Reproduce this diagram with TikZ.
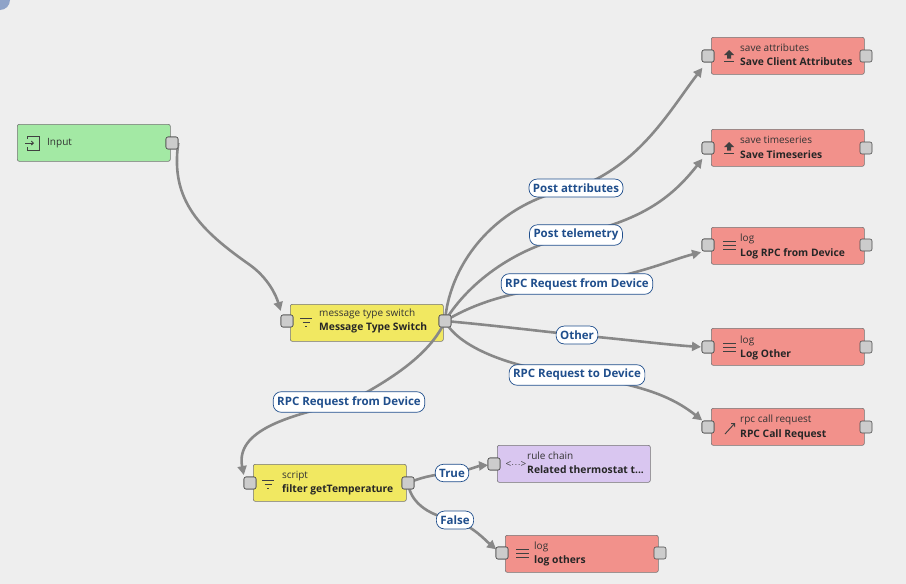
\documentclass[tikz,border=0pt]{standalone}
\usepackage{fontspec}
\setmainfont{Open Sans}
\usetikzlibrary{arrows.meta}
\definecolor{bg}{HTML}{EEEEEE}
\definecolor{grn}{HTML}{A3E9A4}
\definecolor{yel}{HTML}{F1E861}
\definecolor{red}{HTML}{F2918B}
\definecolor{pur}{HTML}{D9C6F0}
\definecolor{lblue}{HTML}{1F4E8C}
\definecolor{edge}{HTML}{888888}
\definecolor{dot}{HTML}{8FA3C8}
\tikzset{
 box/.style={draw=black!55,rounded corners=2pt,minimum width=153pt,minimum height=37pt,inner sep=0pt,line width=0.6pt},
 port/.style={draw=black!70,fill=black!20,rounded corners=2pt,minimum size=12pt,inner sep=0pt,line width=0.6pt},
 captxt/.style={anchor=west,font=\fontsize{10}{11}\selectfont,text=black!80,inner sep=0pt},
 nmtxt/.style={anchor=west,font=\fontsize{10.3}{11}\selectfont\bfseries,text=black!85,inner sep=0pt},
 lab/.style={draw=lblue,fill=white,rounded corners=8pt,text=lblue,font=\fontsize{11.5}{12}\selectfont\bfseries,inner xsep=4pt,inner ysep=4.5pt,line width=0.7pt},
 ed/.style={draw=edge,line width=2.6pt,-{Triangle[length=9pt,width=9pt]},shorten >=1pt},
 ln/.style={draw=edge,line width=2.6pt},
 ic/.style={draw=black!75,line width=0.9pt}
}
\begin{document}
\begin{tikzpicture}[x=1pt,y=-1pt]
\fill[bg] (0,0) rectangle (906,584);
\useasboundingbox (0,0) rectangle (906,584);
\fill[dot] (0,0) circle (10);
% boxes
\node[box,fill=grn,anchor=north west] (in) at (17,124) {};
\node[box,fill=yel,anchor=north west] (sw) at (290,304) {};
\node[box,fill=red,anchor=north west] (sa) at (711,37) {};
\node[box,fill=red,anchor=north west] (st) at (711,129) {};
\node[box,fill=red,anchor=north west] (lr) at (711,227) {};
\node[box,fill=red,anchor=north west] (lo) at (711,328) {};
\node[box,fill=red,anchor=north west] (rc) at (711,408) {};
\node[box,fill=yel,anchor=north west] (sc) at (253,464) {};
\node[box,fill=pur,anchor=north west] (ch) at (497,445) {};
\node[box,fill=red,anchor=north west] (lx) at (505,535) {};
% texts
\node[captxt] (tin) at (47,143) {Input};
\node[captxt] (c1) at (319,314) {message type switch};\node[nmtxt] (n1) at (319,328) {Message Type Switch};
\node[captxt] (c2) at (740,48) {save attributes};\node[nmtxt] (n2) at (740,62) {Save Client Attributes};
\node[captxt] (c3) at (740,140) {save timeseries};\node[nmtxt] (n3) at (740,155) {Save Timeseries};
\node[captxt] (c4) at (740,239) {log};\node[nmtxt] (n4) at (740,254) {Log RPC from Device};
\node[captxt] (c5) at (740,341) {log};\node[nmtxt] (n5) at (740,355) {Log Other};
\node[captxt] (c6) at (740,420) {rpc call request};\node[nmtxt] (n6) at (740,435) {RPC Call Request};
\node[captxt] (c7) at (282,476) {script};\node[nmtxt] (n7) at (282,490) {filter getTemperature};
\node[captxt] (c8) at (527,456) {rule chain};\node[nmtxt] (n8) at (527,470) {Related thermostat t...};
\node[captxt] (c9) at (534,547) {log};\node[nmtxt] (n9) at (534,561) {log others};
% icons
\draw[ic] (27,139)--(27,136)--(39,136)--(39,150)--(27,150)--(27,147);
\draw[ic,-{Straight Barb[length=2pt]}] (25,143)--(34,143);
\foreach \x/\y in {300/322,262/484}{
 \draw[ic] (\x,\y-4)--(\x+12,\y-4); \draw[ic] (\x+2.5,\y)--(\x+9.5,\y); \draw[ic] (\x+5,\y+4)--(\x+7,\y+4);}
\foreach \y in {56,148}{
 \draw[ic] (724,\y+5)--(734,\y+5); \fill[black!75] (729,\y-6)--(734,\y-1)--(731,\y-1)--(731,\y+2.5)--(727,\y+2.5)--(727,\y-1)--(724,\y-1)--cycle;}
\foreach \x/\y in {723/245,723/347,516/553}{
 \draw[ic] (\x,\y-4)--(\x+13,\y-4); \draw[ic] (\x,\y)--(\x+13,\y); \draw[ic] (\x,\y+4)--(\x+13,\y+4);}
\draw[ic,-{Straight Barb[length=2.5pt]}] (725,434)--(735,423);
\node[font=\fontsize{10}{10}\selectfont,text=black!75,inner sep=0pt] (ici) at (516,464) {<$\cdot\!\cdot\!\cdot$>};
% ports
\node[port] (inR) at (172,143) {};
\node[port] (swL) at (287,321) {};\node[port] (swR) at (445,321) {};
\node[port] (saL) at (708,56) {};\node[port] (saR) at (866,56) {};
\node[port] (stL) at (708,148) {};\node[port] (stR) at (866,148) {};
\node[port] (lrL) at (708,245) {};\node[port] (lrR) at (866,245) {};
\node[port] (loL) at (708,347) {};\node[port] (loR) at (866,347) {};
\node[port] (rcL) at (708,427) {};\node[port] (rcR) at (866,427) {};
\node[port] (scL) at (250,483) {};\node[port] (scR) at (408,483) {};
\node[port] (chL) at (494,464) {};
\node[port] (lxL) at (502,553) {};\node[port] (lxR) at (660,553) {};
% label positions
\coordinate (l1) at (576,188);
\coordinate (l2) at (576,235);
\coordinate (l3) at (577,284);
\coordinate (l4) at (577,335);
\coordinate (l5) at (577,375);
\coordinate (l6) at (349,402);
\coordinate (l7) at (452,473);
\coordinate (l8) at (455,520);
% edge ends
\coordinate (e0) at (281,312);
\coordinate (e1) at (703,67);
\coordinate (e2) at (703,158);
\coordinate (e3) at (702,252);
\coordinate (e4) at (702,347);
\coordinate (e5) at (703,421);
\coordinate (e6) at (244,476);
\coordinate (e7) at (489,465);
\coordinate (e8) at (497,550);
% edges
\path[ed] (inR.east) .. controls (170,200) and (200,230) .. (250,265) .. controls (268,278) and (276,295) .. (e0);
\path[ln] (swR.center) .. controls (450,260) and (500,200) .. (l1);
\path[ed] (l1) .. controls (640,165) and (670,110) .. (e1);
\path[ln] (swR.center) .. controls (470,280) and (520,245) .. (l2);
\path[ed] (l2) .. controls (640,220) and (670,200) .. (e2);
\path[ln] (swR.center) .. controls (480,300) and (520,290) .. (l3);
\path[ed] (l3) .. controls (640,275) and (670,260) .. (e3);
\path[ln] (swR.center) .. controls (490,325) and (530,330) .. (l4);
\path[ed] (l4) .. controls (630,340) and (670,345) .. (e4);
\path[ln] (swR.center) .. controls (460,350) and (520,370) .. (l5);
\path[ed] (l5) .. controls (640,385) and (670,395) .. (e5);
\path[ln] (swR.center) .. controls (430,355) and (390,380) .. (l6);
\path[ed] (l6) .. controls (290,415) and (235,430) .. (e6);
\path[ln] (scR.center) .. controls (420,478) and (430,475) .. (l7);
\path[ed] (l7) .. controls (470,470) and (478,466) .. (e7);
\path[ln] (scR.center) .. controls (410,500) and (425,515) .. (l8);
\path[ed] (l8) .. controls (475,528) and (485,540) .. (e8);
% labels on top
\node[lab] (L1) at (l1) {Post attributes};
\node[lab] (L2) at (l2) {Post telemetry};
\node[lab] (L3) at (l3) {RPC Request from Device};
\node[lab] (L4) at (l4) {Other};
\node[lab] (L5) at (l5) {RPC Request to Device};
\node[lab] (L6) at (l6) {RPC Request from Device};
\node[lab] (L7) at (l7) {True};
\node[lab] (L8) at (l8) {False};
\foreach \p in {inR,swL,swR,saL,stL,lrL,loL,rcL,scL,scR,chL,lxL}{\node[port] at (\p) {};}
\end{tikzpicture}
\end{document}
